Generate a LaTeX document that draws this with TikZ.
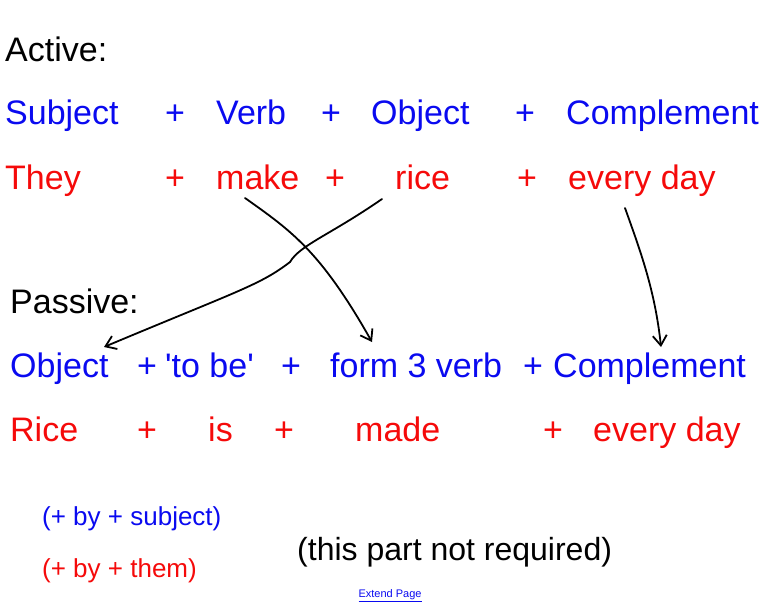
\documentclass[tikz,border=0pt]{standalone}
\usepackage{fontspec}
\setmainfont{Liberation Sans}
\newfontfamily\plainf{Liberation Sans}
\usetikzlibrary{arrows.meta}
\definecolor{bl}{RGB}{10,10,240}
\definecolor{rd}{RGB}{245,10,10}
\begin{document}
\begin{tikzpicture}[x=1pt,y=-1pt,
  t/.style={anchor=base west,inner sep=0pt,font=\fontsize{34}{34}\selectfont},
  b/.style={t,text=bl}, r/.style={t,text=rd}, k/.style={t,text=black},
  s/.style={anchor=base west,inner sep=0pt,font=\fontsize{26}{26}\selectfont},
  hand/.style={line width=1.8pt,-{Straight Barb[length=10pt,width=14pt]},line cap=round}]
\useasboundingbox (0,0) rectangle (781,608);
\node[k] (act) at (5,61) {Active:};
\node[b] (s1) at (5,124) {Subject}; \node[b] (p1) at (165,124) {+};
\node[b] (v1) at (216,124) {Verb}; \node[b] (p2) at (321,124) {+};
\node[b] (o1) at (371,124) {Object}; \node[b] (p3) at (515,124) {+};
\node[b] (c1) at (566,124) {Complement};
\node[r] (they) at (5,189) {They}; \node[r] (p4) at (165,189) {+};
\node[r] (make) at (216,189) {make}; \node[r] (p5) at (325,189) {+};
\node[r] (rice) at (395,189) {rice}; \node[r] (p6) at (517,189) {+};
\node[r] (ed1) at (568,189) {every day};
\node[k] (pas) at (10,313) {Passive:};
\node[b] (o2) at (10,377) {Object}; \node[b] (p7) at (137,377) {+};
\node[b] (tb) at (165,377) {\plainf 'to be'}; \node[b] (p8) at (281,377) {+};
\node[b] (f3) at (330,377) {form 3 verb}; \node[b] (p9) at (523,377) {+};
\node[b] (c2) at (553,377) {Complement};
\node[r] (rice2) at (10,441) {Rice}; \node[r] (p10) at (137,441) {+};
\node[r] (is) at (208,441) {is}; \node[r] (p11) at (274,441) {+};
\node[r] (made) at (355,441) {made}; \node[r] (p12) at (543,441) {+};
\node[r] (ed2) at (593,441) {every day};
\node[s,text=bl] (bys) at (42,525) {(+ by + subject)};
\node[s,text=rd] (byt) at (42,577) {(+ by + them)};
\node[k,font=\fontsize{32}{32}\selectfont] (np) at (297,560) {(this part not required)};
\node[anchor=center,inner sep=0pt,text=bl,font=\fontsize{11}{11}\selectfont] (ext) at (390,596) {\underline{Extend Page}};
\coordinate (a1) at (245,198); \coordinate (a1e) at (372,342);
\coordinate (a2) at (382,199); \coordinate (a2e) at (104,347);
\coordinate (a3) at (625,208); \coordinate (a3e) at (661,347);
\draw[hand] (a1) .. controls (290,230) and (320,250) .. (a1e);
\draw[hand] (a2) .. controls (330,235) and (300,245) .. (290,262) .. controls (260,285) and (240,290) .. (a2e);
\draw[hand] (a3) .. controls (640,250) and (655,290) .. (a3e);
\end{tikzpicture}
\end{document}
